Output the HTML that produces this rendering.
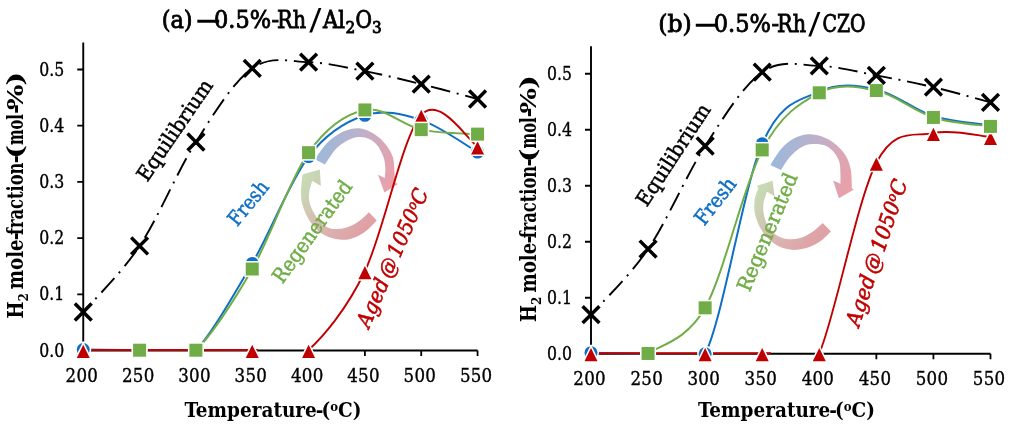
<!DOCTYPE html>
<html><head><meta charset="utf-8"><title>H2 mole fraction</title>
<style>
html,body{margin:0;padding:0;background:#fff}
svg{display:block}
text{font-family:'DejaVu Serif','Liberation Serif',serif;fill:#000}
.tk{font-family:'DejaVu Serif Condensed','DejaVu Serif','Liberation Serif',serif;font-size:18.5px;stroke:#000;stroke-width:0.35px}
.ttl{font-family:'DejaVu Serif Condensed','DejaVu Serif','Liberation Serif',serif;font-size:25px;stroke:#000;stroke-width:0.8px}
.ax{font-family:'DejaVu Serif Condensed','DejaVu Serif','Liberation Serif',serif;font-size:20.5px;font-weight:bold}
.lb{font-size:20.5px;stroke:#000;stroke-width:0.5px}
</style></head><body>
<svg width="1024" height="431" viewBox="0 0 1024 431">
<defs>
<linearGradient id="ga1" gradientUnits="userSpaceOnUse" x1="318" y1="160" x2="392" y2="180"><stop offset="0" stop-color="#9db8d9"/><stop offset="0.5" stop-color="#c2afc8"/><stop offset="1" stop-color="#e9a0a9"/></linearGradient>
<linearGradient id="ga2" gradientUnits="userSpaceOnUse" x1="372" y1="218" x2="308" y2="178"><stop offset="0" stop-color="#dfa0a6"/><stop offset="0.55" stop-color="#d9b8b2"/><stop offset="1" stop-color="#c6dab4"/></linearGradient>
<linearGradient id="gb1" gradientUnits="userSpaceOnUse" x1="774" y1="166" x2="848" y2="186"><stop offset="0" stop-color="#9db8d9"/><stop offset="0.5" stop-color="#c2afc8"/><stop offset="1" stop-color="#e9a0a9"/></linearGradient>
<linearGradient id="gb2" gradientUnits="userSpaceOnUse" x1="826" y1="229" x2="762" y2="189"><stop offset="0" stop-color="#dfa0a6"/><stop offset="0.55" stop-color="#d9b8b2"/><stop offset="1" stop-color="#c6dab4"/></linearGradient>
</defs>
<rect width="1024" height="431" fill="#fff"/>
<g id="chartA">
<path d="M314.8,159.3 C317.0,156.5 322.9,147.0 327.8,142.3 C332.8,137.6 339.2,133.4 344.5,131.1 C349.8,128.8 354.4,127.8 359.4,128.3 C364.3,128.8 369.9,131.3 374.2,133.9 C378.5,136.5 382.2,140.2 385.3,144.1 C388.4,148.0 391.2,152.1 392.8,157.1 C394.4,162.1 394.2,169.6 394.6,173.8 C395.0,178.1 395.1,181.1 395.2,182.6 L397.8,184.0 L384.4,192.4 L378.0,174.7 L384.8,177.9 C384.9,176.3 385.5,171.7 385.3,168.2 C385.1,164.7 385.0,161.1 383.5,157.1 C382.0,153.1 379.2,147.3 376.1,144.1 C373.0,140.8 368.9,138.5 364.9,137.6 C360.9,136.7 356.5,136.9 351.9,138.6 C347.3,140.3 341.6,143.5 337.1,147.8 C332.6,152.1 327.0,161.7 325.0,164.5 Z" fill="url(#ga1)"/>
<path d="M376.8,220.5 C374.8,222.4 369.1,228.9 364.7,232.0 C360.2,235.1 355.0,237.8 350.1,238.9 C345.2,240.1 340.4,239.9 335.5,238.9 C330.6,237.9 325.2,236.2 320.9,233.1 C316.5,230.0 312.5,225.4 309.4,220.5 C306.3,215.6 303.5,209.0 302.1,203.8 C300.7,198.6 301.2,191.6 301.0,189.2 L302.5,174.6 L319.8,169.4 L320.9,186.1 L312.1,180.7 C311.9,181.4 311.4,183.2 311.0,185.0 C310.6,186.8 309.7,188.5 309.4,191.3 C309.1,194.1 308.5,198.0 309.4,201.8 C310.3,205.6 312.3,210.5 314.6,214.3 C316.9,218.1 319.9,222.3 323.0,224.7 C326.1,227.1 329.6,228.4 333.4,228.9 C337.2,229.4 341.7,229.0 345.9,227.8 C350.1,226.6 354.7,224.2 358.5,221.6 C362.3,219.0 367.2,213.8 368.9,212.2 Z" fill="url(#ga2)"/>
<path d="M83.25,42.5 V350.5 H477.56" fill="none" stroke="#000" stroke-width="1.9"/>
<path d="M139.58,350.5 v5.5 M195.91,350.5 v5.5 M252.24,350.5 v5.5 M308.57,350.5 v5.5 M364.90,350.5 v5.5 M421.23,350.5 v5.5 M477.56,350.5 v5.5 M83.25,350.50 h-6 M83.25,294.30 h-6 M83.25,238.10 h-6 M83.25,181.90 h-6 M83.25,125.70 h-6 M83.25,69.50 h-6 " stroke="#000" stroke-width="1.8" fill="none"/>
<path d="M83.25,312.00 C92.64,301.00 120.80,274.30 139.58,245.97 C158.36,217.63 177.13,171.60 195.91,142.00 C214.69,112.40 233.46,81.68 252.24,68.38 C271.02,55.08 289.79,61.73 308.57,62.19 C327.35,62.66 346.12,67.53 364.90,71.19 C383.68,74.84 402.45,79.48 421.23,84.11 C440.01,88.75 468.17,96.52 477.56,99.00" fill="none" stroke="#000" stroke-width="1.9" stroke-dasharray="19.5 6.7 2 6.8" stroke-dashoffset="8.3"/>
<path d="M83.25,349.60 L139.58,350.22 M195.91,350.22 C210.30,335.75 233.46,295.66 252.24,263.39 C271.02,231.12 289.79,181.29 308.57,156.61 C327.35,131.93 346.12,121.39 364.90,115.30 C383.68,109.21 402.45,113.94 421.23,120.08 C440.01,126.22 468.17,146.78 477.56,152.11" fill="none" stroke="#0f6fc6" stroke-width="2.0" stroke-linejoin="round"/>
<path d="M195.91,350.22 C210.30,336.68 233.46,301.93 252.24,269.01 C271.02,236.09 289.79,179.18 308.57,152.68 C327.35,126.17 346.12,113.80 364.90,109.96 C383.68,106.12 402.45,125.61 421.23,129.63 C440.01,133.66 468.17,133.38 477.56,134.13" fill="none" stroke="#70ad47" stroke-width="2.0" stroke-linejoin="round"/>
<path d="M83.25,350.05 L258.00,350.05 M308.57,350.05 C322.96,336.92 346.12,310.43 364.90,271.26 C383.68,232.09 402.45,135.82 421.23,115.02 C440.01,94.23 468.17,141.25 477.56,146.49" fill="none" stroke="#c00000" stroke-width="1.9" stroke-linejoin="round"/>
<circle cx="83.25" cy="349.60" r="6.5" fill="#0f6fc6" stroke="#fff" stroke-width="3" paint-order="stroke"/>
<circle cx="139.58" cy="349.71" r="6.5" fill="#0f6fc6" stroke="#fff" stroke-width="3" paint-order="stroke"/>
<circle cx="195.91" cy="350.22" r="6.5" fill="#0f6fc6" stroke="#fff" stroke-width="3" paint-order="stroke"/>
<circle cx="252.24" cy="263.39" r="6.5" fill="#0f6fc6" stroke="#fff" stroke-width="3" paint-order="stroke"/>
<circle cx="308.57" cy="156.61" r="6.5" fill="#0f6fc6" stroke="#fff" stroke-width="3" paint-order="stroke"/>
<circle cx="364.90" cy="115.30" r="6.5" fill="#0f6fc6" stroke="#fff" stroke-width="3" paint-order="stroke"/>
<circle cx="421.23" cy="120.08" r="6.5" fill="#0f6fc6" stroke="#fff" stroke-width="3" paint-order="stroke"/>
<circle cx="477.56" cy="152.11" r="6.5" fill="#0f6fc6" stroke="#fff" stroke-width="3" paint-order="stroke"/>
<path d="M83.25,344.75 L89.75,357.95 H76.75 Z" fill="#c00000" stroke="#fff" stroke-width="3" paint-order="stroke"/>
<path d="M252.24,344.75 L258.74,357.95 H245.74 Z" fill="#c00000" stroke="#fff" stroke-width="3" paint-order="stroke"/>
<path d="M308.57,344.75 L315.07,357.95 H302.07 Z" fill="#c00000" stroke="#fff" stroke-width="3" paint-order="stroke"/>
<path d="M364.90,265.96 L371.40,279.16 H358.40 Z" fill="#c00000" stroke="#fff" stroke-width="3" paint-order="stroke"/>
<path d="M421.23,109.72 L427.73,122.92 H414.73 Z" fill="#c00000" stroke="#fff" stroke-width="3" paint-order="stroke"/>
<path d="M477.56,141.19 L484.06,154.39 H471.06 Z" fill="#c00000" stroke="#fff" stroke-width="3" paint-order="stroke"/>
<rect x="133.08" y="343.72" width="13" height="13" fill="#70ad47" stroke="#fff" stroke-width="3" paint-order="stroke"/>
<rect x="189.41" y="343.72" width="13" height="13" fill="#70ad47" stroke="#fff" stroke-width="3" paint-order="stroke"/>
<rect x="245.74" y="262.51" width="13" height="13" fill="#70ad47" stroke="#fff" stroke-width="3" paint-order="stroke"/>
<rect x="302.07" y="146.18" width="13" height="13" fill="#70ad47" stroke="#fff" stroke-width="3" paint-order="stroke"/>
<rect x="358.40" y="103.46" width="13" height="13" fill="#70ad47" stroke="#fff" stroke-width="3" paint-order="stroke"/>
<rect x="414.73" y="123.13" width="13" height="13" fill="#70ad47" stroke="#fff" stroke-width="3" paint-order="stroke"/>
<rect x="471.06" y="127.63" width="13" height="13" fill="#70ad47" stroke="#fff" stroke-width="3" paint-order="stroke"/>
<path d="M74.85,303.60 l16.8,16.8 M74.85,320.40 l16.8,-16.8 M131.18,237.57 l16.8,16.8 M131.18,254.37 l16.8,-16.8 M187.51,133.60 l16.8,16.8 M187.51,150.40 l16.8,-16.8 M243.84,59.98 l16.8,16.8 M243.84,76.78 l16.8,-16.8 M300.17,53.79 l16.8,16.8 M300.17,70.59 l16.8,-16.8 M356.50,62.79 l16.8,16.8 M356.50,79.59 l16.8,-16.8 M412.83,75.71 l16.8,16.8 M412.83,92.51 l16.8,-16.8 M469.16,90.60 l16.8,16.8 M469.16,107.40 l16.8,-16.8 " stroke="#000" stroke-width="3.5" fill="none"/>
<text x="81.75" y="382" class="tk" text-anchor="middle" textLength="32.3" lengthAdjust="spacing">200</text>
<text x="138.08" y="382" class="tk" text-anchor="middle" textLength="32.3" lengthAdjust="spacing">250</text>
<text x="194.41" y="382" class="tk" text-anchor="middle" textLength="32.3" lengthAdjust="spacing">300</text>
<text x="250.74" y="382" class="tk" text-anchor="middle" textLength="32.3" lengthAdjust="spacing">350</text>
<text x="307.07" y="382" class="tk" text-anchor="middle" textLength="32.3" lengthAdjust="spacing">400</text>
<text x="363.40" y="382" class="tk" text-anchor="middle" textLength="32.3" lengthAdjust="spacing">450</text>
<text x="419.73" y="382" class="tk" text-anchor="middle" textLength="32.3" lengthAdjust="spacing">500</text>
<text x="476.06" y="382" class="tk" text-anchor="middle" textLength="32.3" lengthAdjust="spacing">550</text>
<text x="64.25" y="356.50" class="tk" text-anchor="end" textLength="25" lengthAdjust="spacingAndGlyphs">0.0</text>
<text x="64.25" y="300.30" class="tk" text-anchor="end" textLength="25" lengthAdjust="spacingAndGlyphs">0.1</text>
<text x="64.25" y="244.10" class="tk" text-anchor="end" textLength="25" lengthAdjust="spacingAndGlyphs">0.2</text>
<text x="64.25" y="187.90" class="tk" text-anchor="end" textLength="25" lengthAdjust="spacingAndGlyphs">0.3</text>
<text x="64.25" y="131.70" class="tk" text-anchor="end" textLength="25" lengthAdjust="spacingAndGlyphs">0.4</text>
<text x="64.25" y="75.50" class="tk" text-anchor="end" textLength="25" lengthAdjust="spacingAndGlyphs">0.5</text>
<text class="ttl" x="161.7" y="27.7">(a)<tspan x="197" style="stroke-width:1.4px">—</tspan><tspan x="214">0.5%</tspan><tspan x="271.5">-</tspan><tspan x="277" textLength="29" lengthAdjust="spacingAndGlyphs">Rh</tspan><tspan x="323" textLength="22" lengthAdjust="spacingAndGlyphs">Al</tspan><tspan x="345.5" font-size="17" dy="5">2</tspan><tspan x="355.5" dy="-5" textLength="16.5" lengthAdjust="spacingAndGlyphs">O</tspan><tspan x="372" font-size="17" dy="5">3</tspan></text>
<text class="ttl" transform="translate(309.3,30) scale(1.6,1.2)" style="stroke-width:0">/</text>
<text class="ax" x="184.5" y="416.6">Temperature<tspan dx="-1">-</tspan><tspan dx="-2">(</tspan><tspan font-size="13" dy="-6">o</tspan><tspan dy="6">C)</tspan></text>
<text class="ax" style="font-size:21.5px" transform="translate(22.6,319.6) rotate(-90)"><tspan x="1" textLength="17" lengthAdjust="spacingAndGlyphs">H</tspan><tspan font-size="13.5" dy="5">2</tspan><tspan x="30.3" dy="-5" textLength="50" lengthAdjust="spacingAndGlyphs">mole</tspan><tspan x="79.3">-</tspan><tspan x="84.6" textLength="72.4" lengthAdjust="spacingAndGlyphs">fraction</tspan><tspan x="156.3">-</tspan><tspan x="160.5" textLength="14" lengthAdjust="spacingAndGlyphs">(</tspan><tspan x="174.5" textLength="31" lengthAdjust="spacingAndGlyphs">mol</tspan><tspan x="205.5" textLength="10" lengthAdjust="spacingAndGlyphs">-</tspan><tspan x="209.5" textLength="25.5" lengthAdjust="spacingAndGlyphs">%</tspan><tspan x="233.8" textLength="14" lengthAdjust="spacingAndGlyphs">)</tspan></text>
<text class="lb" transform="translate(147.2,182.8) rotate(-55.7)" textLength="118" lengthAdjust="spacingAndGlyphs">Equilibrium</text>
<text class="lb" transform="translate(237.3,227.3) rotate(-50.6)" textLength="51.5" lengthAdjust="spacingAndGlyphs" style="fill:#0f6fc6;stroke:#0f6fc6">Fresh</text>
<text class="lb" transform="translate(282.5,284.5) rotate(-54.2)" textLength="120.8" lengthAdjust="spacingAndGlyphs" style="fill:#70ad47;stroke:#70ad47">Regenerated</text>
<text class="lb" transform="translate(369,328.9) rotate(-66.3)" textLength="149" lengthAdjust="spacingAndGlyphs" style="fill:#c00000;stroke:#c00000;font-style:italic;font-size:21px;stroke-width:0.6px;word-spacing:-3.5px">Aged @ 1050<tspan font-size="13" dy="-6">o</tspan><tspan dy="6">C</tspan></text>
</g>
<g id="chartB">
<path d="M770.4,164.9 C772.1,162.3 777.1,153.5 780.9,149.2 C784.7,144.8 788.9,141.3 793.4,138.8 C797.9,136.3 803.1,134.5 808.0,134.2 C812.9,133.8 818.1,135.1 822.6,136.7 C827.1,138.3 831.4,140.9 835.2,144.0 C839.0,147.1 843.0,151.2 845.6,155.5 C848.2,159.8 849.8,164.6 850.8,170.1 C851.8,175.6 851.7,185.5 851.9,188.6 L853.9,189.5 L838.9,198.3 L833.1,180.5 L840.4,183.7 C840.4,182.1 840.6,178.0 840.4,174.3 C840.2,170.7 840.5,165.6 839.3,161.8 C838.1,158.0 835.7,154.1 833.1,151.3 C830.5,148.5 827.2,146.3 823.7,145.1 C820.2,143.9 815.9,143.7 812.2,144.0 C808.6,144.3 805.4,145.0 801.8,147.1 C798.1,149.2 793.8,152.7 790.3,156.5 C786.8,160.3 782.5,167.8 780.9,170.1 Z" fill="url(#gb1)"/>
<path d="M831.0,231.4 C829.0,233.2 823.4,239.3 818.9,242.2 C814.4,245.0 809.2,247.3 804.3,248.5 C799.4,249.7 794.6,250.3 789.7,249.6 C784.8,248.9 779.6,247.3 775.1,244.3 C770.6,241.3 765.8,236.7 762.5,231.8 C759.2,226.9 756.5,220.3 755.2,215.1 C753.9,209.9 754.1,205.0 754.6,200.5 C755.1,196.0 757.8,190.1 758.4,188.0 L756.7,185.9 L772.5,180.7 L774.6,196.3 L766.9,191.8 C766.6,192.6 765.9,194.7 765.4,196.5 C764.9,198.3 763.9,199.8 763.6,202.6 C763.3,205.3 762.9,209.2 763.6,213.0 C764.3,216.8 765.6,221.8 767.7,225.5 C769.8,229.2 772.8,232.6 776.1,234.9 C779.4,237.2 783.6,238.6 787.6,239.1 C791.6,239.6 795.9,239.3 800.1,238.1 C804.3,236.9 808.8,234.3 812.6,231.8 C816.4,229.3 821.0,224.5 822.7,223.0 Z" fill="url(#gb2)"/>
<path d="M591,46.2 V353.75 H990.49" fill="none" stroke="#000" stroke-width="1.9"/>
<path d="M648.07,353.75 v5.5 M705.14,353.75 v5.5 M762.21,353.75 v5.5 M819.28,353.75 v5.5 M876.35,353.75 v5.5 M933.42,353.75 v5.5 M990.49,353.75 v5.5 M591,353.75 h-6 M591,297.75 h-6 M591,241.75 h-6 M591,185.75 h-6 M591,129.75 h-6 M591,73.75 h-6 " stroke="#000" stroke-width="1.8" fill="none"/>
<path d="M591.00,314.55 C600.51,303.63 629.05,277.12 648.07,249.03 C667.09,220.94 686.12,175.48 705.14,145.99 C724.16,116.50 743.19,85.42 762.21,72.07 C781.23,58.72 800.26,65.35 819.28,65.91 C838.30,66.47 857.33,71.88 876.35,75.43 C895.37,78.98 914.40,82.71 933.42,87.19 C952.44,91.67 980.98,99.79 990.49,102.31" fill="none" stroke="#000" stroke-width="1.9" stroke-dasharray="19.5 6.7 2 6.8" stroke-dashoffset="8.3"/>
<path d="M591.00,352.63 L648.07,353.75 M705.14,353.75 C722.99,318.75 743.19,187.43 762.21,143.75 C781.23,100.07 800.26,100.72 819.28,91.67 C838.30,82.62 857.33,85.32 876.35,89.43 C895.37,93.54 914.40,110.34 933.42,116.31 C952.44,122.28 980.98,123.78 990.49,125.27" fill="none" stroke="#0f6fc6" stroke-width="2.0" stroke-linejoin="round"/>
<path d="M648.07,353.47 C657.58,345.86 686.12,341.76 705.14,307.83 C724.16,273.90 743.19,185.75 762.21,149.91 C781.23,114.07 800.26,102.68 819.28,92.79 C838.30,82.90 857.33,86.44 876.35,90.55 C895.37,94.66 914.40,111.46 933.42,117.43 C952.44,123.40 980.98,124.90 990.49,126.39" fill="none" stroke="#70ad47" stroke-width="2.0" stroke-linejoin="round"/>
<path d="M591.00,353.30 L771.00,353.30 M819.28,353.30 C833.79,321.55 857.33,199.49 876.35,162.79 C895.37,126.09 914.40,137.40 933.42,133.11 C952.44,128.82 980.98,136.38 990.49,137.03" fill="none" stroke="#c00000" stroke-width="1.9" stroke-linejoin="round"/>
<circle cx="591.00" cy="352.63" r="6.5" fill="#0f6fc6" stroke="#fff" stroke-width="3" paint-order="stroke"/>
<circle cx="648.07" cy="353.19" r="6.5" fill="#0f6fc6" stroke="#fff" stroke-width="3" paint-order="stroke"/>
<circle cx="705.14" cy="353.75" r="6.5" fill="#0f6fc6" stroke="#fff" stroke-width="3" paint-order="stroke"/>
<circle cx="762.21" cy="143.75" r="6.5" fill="#0f6fc6" stroke="#fff" stroke-width="3" paint-order="stroke"/>
<circle cx="819.28" cy="91.67" r="6.5" fill="#0f6fc6" stroke="#fff" stroke-width="3" paint-order="stroke"/>
<circle cx="876.35" cy="89.43" r="6.5" fill="#0f6fc6" stroke="#fff" stroke-width="3" paint-order="stroke"/>
<circle cx="933.42" cy="116.31" r="6.5" fill="#0f6fc6" stroke="#fff" stroke-width="3" paint-order="stroke"/>
<circle cx="990.49" cy="125.27" r="6.5" fill="#0f6fc6" stroke="#fff" stroke-width="3" paint-order="stroke"/>
<path d="M591.00,348.00 L597.50,361.20 H584.50 Z" fill="#c00000" stroke="#fff" stroke-width="3" paint-order="stroke"/>
<path d="M705.14,348.00 L711.64,361.20 H698.64 Z" fill="#c00000" stroke="#fff" stroke-width="3" paint-order="stroke"/>
<path d="M762.21,348.00 L768.71,361.20 H755.71 Z" fill="#c00000" stroke="#fff" stroke-width="3" paint-order="stroke"/>
<path d="M819.28,348.00 L825.78,361.20 H812.78 Z" fill="#c00000" stroke="#fff" stroke-width="3" paint-order="stroke"/>
<path d="M876.35,157.49 L882.85,170.69 H869.85 Z" fill="#c00000" stroke="#fff" stroke-width="3" paint-order="stroke"/>
<path d="M933.42,127.81 L939.92,141.01 H926.92 Z" fill="#c00000" stroke="#fff" stroke-width="3" paint-order="stroke"/>
<path d="M990.49,131.73 L996.99,144.93 H983.99 Z" fill="#c00000" stroke="#fff" stroke-width="3" paint-order="stroke"/>
<rect x="641.57" y="346.97" width="13" height="13" fill="#70ad47" stroke="#fff" stroke-width="3" paint-order="stroke"/>
<rect x="698.64" y="301.33" width="13" height="13" fill="#70ad47" stroke="#fff" stroke-width="3" paint-order="stroke"/>
<rect x="755.71" y="143.41" width="13" height="13" fill="#70ad47" stroke="#fff" stroke-width="3" paint-order="stroke"/>
<rect x="812.78" y="86.29" width="13" height="13" fill="#70ad47" stroke="#fff" stroke-width="3" paint-order="stroke"/>
<rect x="869.85" y="84.05" width="13" height="13" fill="#70ad47" stroke="#fff" stroke-width="3" paint-order="stroke"/>
<rect x="926.92" y="110.93" width="13" height="13" fill="#70ad47" stroke="#fff" stroke-width="3" paint-order="stroke"/>
<rect x="983.99" y="119.89" width="13" height="13" fill="#70ad47" stroke="#fff" stroke-width="3" paint-order="stroke"/>
<path d="M582.60,306.15 l16.8,16.8 M582.60,322.95 l16.8,-16.8 M639.67,240.63 l16.8,16.8 M639.67,257.43 l16.8,-16.8 M696.74,137.59 l16.8,16.8 M696.74,154.39 l16.8,-16.8 M753.81,63.67 l16.8,16.8 M753.81,80.47 l16.8,-16.8 M810.88,57.51 l16.8,16.8 M810.88,74.31 l16.8,-16.8 M867.95,67.03 l16.8,16.8 M867.95,83.83 l16.8,-16.8 M925.02,78.79 l16.8,16.8 M925.02,95.59 l16.8,-16.8 M982.09,93.91 l16.8,16.8 M982.09,110.71 l16.8,-16.8 " stroke="#000" stroke-width="3.5" fill="none"/>
<text x="589.50" y="384.5" class="tk" text-anchor="middle" textLength="32.3" lengthAdjust="spacing">200</text>
<text x="646.57" y="384.5" class="tk" text-anchor="middle" textLength="32.3" lengthAdjust="spacing">250</text>
<text x="703.64" y="384.5" class="tk" text-anchor="middle" textLength="32.3" lengthAdjust="spacing">300</text>
<text x="760.71" y="384.5" class="tk" text-anchor="middle" textLength="32.3" lengthAdjust="spacing">350</text>
<text x="817.78" y="384.5" class="tk" text-anchor="middle" textLength="32.3" lengthAdjust="spacing">400</text>
<text x="874.85" y="384.5" class="tk" text-anchor="middle" textLength="32.3" lengthAdjust="spacing">450</text>
<text x="931.92" y="384.5" class="tk" text-anchor="middle" textLength="32.3" lengthAdjust="spacing">500</text>
<text x="988.99" y="384.5" class="tk" text-anchor="middle" textLength="32.3" lengthAdjust="spacing">550</text>
<text x="572.00" y="359.75" class="tk" text-anchor="end" textLength="25" lengthAdjust="spacingAndGlyphs">0.0</text>
<text x="572.00" y="303.75" class="tk" text-anchor="end" textLength="25" lengthAdjust="spacingAndGlyphs">0.1</text>
<text x="572.00" y="247.75" class="tk" text-anchor="end" textLength="25" lengthAdjust="spacingAndGlyphs">0.2</text>
<text x="572.00" y="191.75" class="tk" text-anchor="end" textLength="25" lengthAdjust="spacingAndGlyphs">0.3</text>
<text x="572.00" y="135.75" class="tk" text-anchor="end" textLength="25" lengthAdjust="spacingAndGlyphs">0.4</text>
<text x="572.00" y="79.75" class="tk" text-anchor="end" textLength="25" lengthAdjust="spacingAndGlyphs">0.5</text>
<text class="ttl" x="658.3" y="32" textLength="33.5" lengthAdjust="spacingAndGlyphs">(b)</text><text class="ttl" y="32"><tspan x="695.5" style="stroke-width:1.4px">—</tspan><tspan x="713.7">0.5%</tspan><tspan x="771.5">-</tspan><tspan x="777" textLength="29" lengthAdjust="spacingAndGlyphs">Rh</tspan><tspan x="822.5" textLength="43" lengthAdjust="spacingAndGlyphs">CZO</tspan></text>
<text class="ttl" transform="translate(808.3,34.3) scale(1.6,1.2)" style="stroke-width:0">/</text>
<text class="ax" x="698" y="417">Temperature<tspan dx="-1">-</tspan><tspan dx="-2">(</tspan><tspan font-size="13" dy="-6">o</tspan><tspan dy="6">C)</tspan></text>
<text class="ax" style="font-size:21.5px" transform="translate(535.8,322.9) rotate(-90)"><tspan x="1" textLength="17" lengthAdjust="spacingAndGlyphs">H</tspan><tspan font-size="13.5" dy="5">2</tspan><tspan x="30.3" dy="-5" textLength="50" lengthAdjust="spacingAndGlyphs">mole</tspan><tspan x="79.3">-</tspan><tspan x="84.6" textLength="72.4" lengthAdjust="spacingAndGlyphs">fraction</tspan><tspan x="156.3">-</tspan><tspan x="160.5" textLength="14" lengthAdjust="spacingAndGlyphs">(</tspan><tspan x="174.5" textLength="31" lengthAdjust="spacingAndGlyphs">mol</tspan><tspan x="205.5" textLength="10" lengthAdjust="spacingAndGlyphs">-</tspan><tspan x="209.5" textLength="25.5" lengthAdjust="spacingAndGlyphs">%</tspan><tspan x="233.8" textLength="14" lengthAdjust="spacingAndGlyphs">)</tspan></text>
<text class="lb" transform="translate(646.8,207.8) rotate(-56.7)" textLength="117.7" lengthAdjust="spacingAndGlyphs">Equilibrium</text>
<text class="lb" transform="translate(704.2,226.6) rotate(-52)" textLength="54" lengthAdjust="spacingAndGlyphs" style="fill:#0f6fc6;stroke:#0f6fc6">Fresh</text>
<text class="lb" transform="translate(749.5,292.8) rotate(-67.3)" textLength="126" lengthAdjust="spacingAndGlyphs" style="fill:#70ad47;stroke:#70ad47">Regenerated</text>
<text class="lb" transform="translate(859,327.5) rotate(-71.5)" textLength="153" lengthAdjust="spacingAndGlyphs" style="fill:#c00000;stroke:#c00000;font-style:italic;font-size:21px;stroke-width:0.6px;word-spacing:-3.5px">Aged @ 1050<tspan font-size="13" dy="-6">o</tspan><tspan dy="6">C</tspan></text>
</g>
</svg>
</body></html>
